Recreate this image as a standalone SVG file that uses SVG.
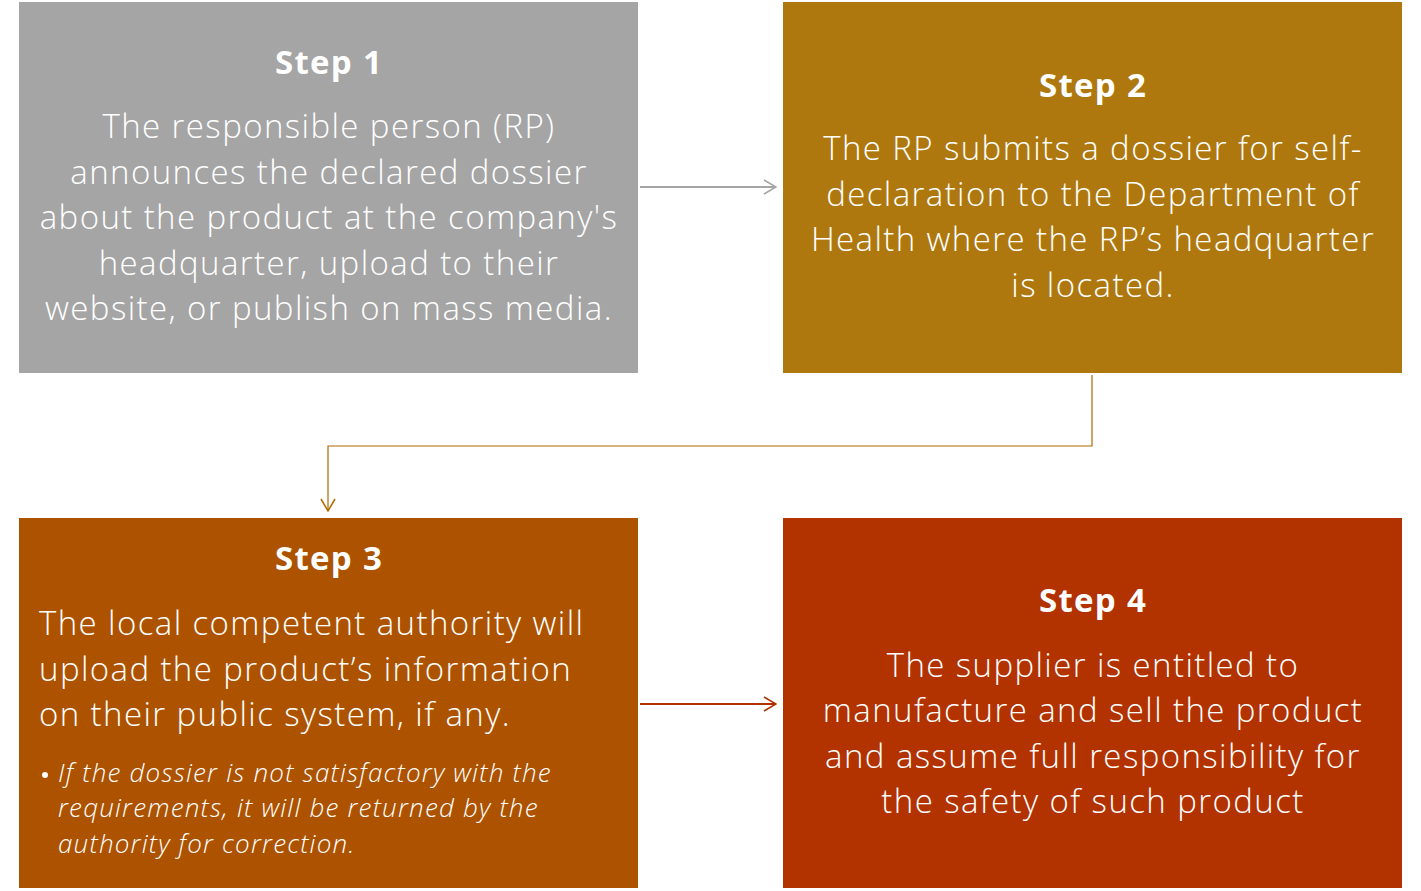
<svg xmlns="http://www.w3.org/2000/svg" width="1421" height="891" viewBox="0 0 1421 891">
<defs>
<marker id="ahGray" markerWidth="14" markerHeight="16" refX="13" refY="8" orient="auto" markerUnits="userSpaceOnUse"><path d="M1,1 L13,8 L1,15" fill="none" stroke="#a5a5a5" stroke-width="1.5"/></marker>
<marker id="ahGold" markerWidth="14" markerHeight="16" refX="13" refY="8" orient="auto" markerUnits="userSpaceOnUse"><path d="M1,1 L13,8 L1,15" fill="none" stroke="#ae6a00" stroke-width="1.5"/></marker>
<marker id="ahRed" markerWidth="14" markerHeight="16" refX="13" refY="8" orient="auto" markerUnits="userSpaceOnUse"><path d="M1,1 L13,8 L1,15" fill="none" stroke="#b03000" stroke-width="1.5"/></marker>
</defs>
<style>
.title{font-family:"Open Sans","Noto Sans",sans-serif;font-weight:700;font-size:33px;letter-spacing:1.3px;fill:#fff;text-anchor:middle}
.body{font-family:"Open Sans","Noto Sans",sans-serif;font-weight:300;font-size:33px;letter-spacing:1.4px;fill:#fff}
.c{text-anchor:middle}
.note{font-family:"Open Sans","Noto Sans",sans-serif;font-weight:300;font-style:italic;font-size:26px;letter-spacing:1.2px;fill:#fff}
</style>
<rect width="1421" height="891" fill="#fff"/>
<g id="connectors">
<line x1="640" y1="187" x2="776" y2="187" stroke="#a5a5a5" stroke-width="2" marker-end="url(#ahGray)"/>
<polyline points="1092,375 1092,446 328,446 328,511" fill="none" stroke="#ae6a00" stroke-width="1.2" marker-end="url(#ahGold)"/>
<line x1="640" y1="704" x2="776" y2="704" stroke="#b03000" stroke-width="2" marker-end="url(#ahRed)"/>
</g>
<g id="step1">
<rect x="19" y="2" width="619" height="371" fill="#a5a5a5"/>
<text class="title" x="329" y="74">Step 1</text>
<text class="body c" x="329" y="138">The responsible person (RP)</text>
<text class="body c" x="329" y="184">announces the declared dossier</text>
<text class="body c" x="329" y="229">about the product at the company's</text>
<text class="body c" x="329" y="275">headquarter, upload to their</text>
<text class="body c" x="329" y="320">website, or publish on mass media.</text>
</g>
<g id="step2">
<rect x="783" y="2" width="619" height="371" fill="#ae780e"/>
<text class="title" x="1093" y="97">Step 2</text>
<text class="body c" x="1093" y="160">The RP submits a dossier for self-</text>
<text class="body c" x="1093" y="206">declaration to the Department of</text>
<text class="body c" x="1093" y="251">Health where the RP’s headquarter</text>
<text class="body c" x="1093" y="297">is located.</text>
</g>
<g id="step3">
<rect x="19" y="518" width="619" height="370" fill="#ad5300"/>
<text class="title" x="329" y="570">Step 3</text>
<text class="body" x="39" y="635">The local competent authority will</text>
<text class="body" x="39" y="681">upload the product’s information</text>
<text class="body" x="39" y="726">on their public system, if any.</text>
<circle cx="45" cy="775" r="3" fill="#fff"/>
<text class="note" x="58" y="782">If the dossier is not satisfactory with the</text>
<text class="note" x="58" y="817">requirements, it will be returned by the</text>
<text class="note" x="58" y="853">authority for correction.</text>
</g>
<g id="step4">
<rect x="783" y="518" width="619" height="370" fill="#b23200"/>
<text class="title" x="1093" y="612">Step 4</text>
<text class="body c" x="1093" y="677">The supplier is entitled to</text>
<text class="body c" x="1093" y="722">manufacture and sell the product</text>
<text class="body c" x="1093" y="768">and assume full responsibility for</text>
<text class="body c" x="1093" y="813">the safety of such product</text>
</g>
</svg>
